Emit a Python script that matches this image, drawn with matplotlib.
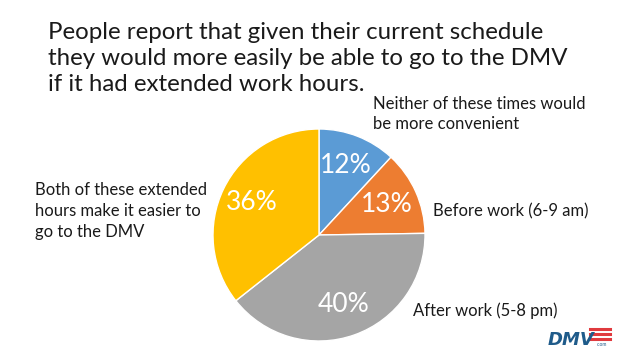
import matplotlib.pyplot as plt
from matplotlib.lines import Line2D

# data
categories = ['Neither of these times would\nbe more convenient',
              'Before work (6-9 am)',
              'After work (5-8 pm)',
              'Both of these extended\nhours make it easier to\ngo to the DMV']
shares = [12, 13, 40, 36]
colors = ['#5B9BD5', '#ED7D31', '#A5A5A5', '#FFC000']
title = ('People report that given their current schedule\n'
         'they would more easily be able to go to the DMV\n'
         'if it had extended work hours.')

plt.rcParams['font.family'] = ['Lato', 'DejaVu Sans']

W, H = 638, 359
fig = plt.figure(figsize=(W / 100, H / 100), dpi=100)
fig.patch.set_facecolor('white')

# pie centred at (319, 235) px with radius ~106 px
cx, cy, r = 319, 235, 106
ax = fig.add_axes([(cx - r) / W, (H - cy - r) / H, 2 * r / W, 2 * r / H])
total = sum(shares)
wedges, _, autotexts = ax.pie(
    shares, colors=colors, startangle=90, counterclock=False,
    autopct=lambda p: f'{p * total / 100:.0f}%', pctdistance=0.7,
    wedgeprops=dict(edgecolor='white', linewidth=1),
    textprops=dict(color='white', fontsize=19))
ax.set_xlim(-1, 1)
ax.set_ylim(-1, 1)
ax.set_aspect('equal')
ax.axis('off')

lab_kw = dict(fontsize=12, color='#1a1a1a', linespacing=1.35, va='center')
ax.text(0.51, 1.14, categories[0], ha='left', **lab_kw)
ax.text(1.075, 0.226, categories[1], ha='left', **lab_kw)
ax.text(0.887, -0.71, categories[2], ha='left', **lab_kw)
ax.text(-1.057, 0.226, categories[3], ha='right', multialignment='left', **lab_kw)

fig.text(48 / W, 1 - 22 / H, title, fontsize=17.3, color='#1a1a1a',
         ha='left', va='top', linespacing=1.3)

# DMV logo
fig.text(548 / W, 1 - 345 / H, 'DMV', fontsize=13, fontweight='bold',
         fontstyle='italic', color='#1F5B8A', ha='left', va='baseline',
         family=['DejaVu Sans'])
for yy in (329, 334, 339):
    fig.add_artist(Line2D([590 / W, 610 / W], [1 - yy / H, 1 - yy / H],
                          color='#E03A3E', linewidth=2.2,
                          transform=fig.transFigure))
fig.text(597 / W, 1 - 346 / H, '.com', fontsize=3.5, color='#1F5B8A',
         ha='left', va='baseline')

fig.savefig('out.png', dpi=100)
